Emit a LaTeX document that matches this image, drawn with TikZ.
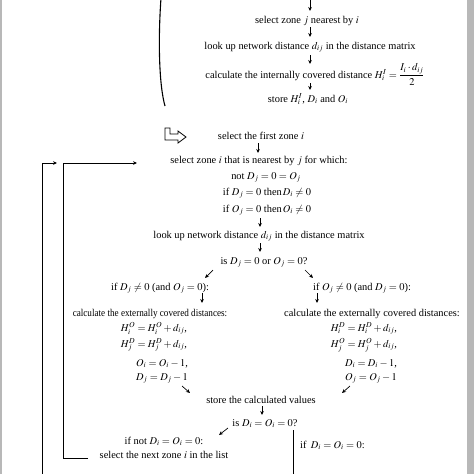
\documentclass[tikz,border=0pt]{standalone}
\usepackage{mathptmx}
\usepackage[no-math]{fontspec}
\setmainfont{Liberation Serif}
\usetikzlibrary{arrows.meta}
\begin{document}
\begin{tikzpicture}[x=1pt,y=-1pt,
  lbl/.style={font=\fontsize{10.4}{12}\selectfont, inner sep=0pt, anchor=base},
  lblw/.style={font=\fontsize{10.4}{12}\selectfont, inner sep=0pt, anchor=base west},
  arr/.style={-{Stealth[length=4pt,width=3.6pt]}, line width=0.7pt},
  loopline/.style={line width=0.8pt},
  edge/.style={fill=black!28, draw=none}]
\useasboundingbox (0,0) rectangle (474,474);
\fill[edge] (0,0) rectangle (2.3,474);
\fill[edge] (467,0) rectangle (474,474);

% bracket
\draw[line width=1.1pt] (161,-2) .. controls (158,40) and (159,85) .. (165,106);

% hollow bent arrow
\draw[line width=0.8pt, fill=white, line join=miter]
  (165,128) -- (170,128) -- (170,134) -- (178,134) -- (178,131) -- (186,137)
  -- (178,143) -- (178,140) -- (165,140) -- cycle;

% upper part
\node[lbl] (t1) at (307,23) {select zone $j$ nearest by $i$};
\node[lbl] (t2) at (310,49) {look up network distance $d_{ij}$ in the distance matrix};
\node[lbl] (t3) at (315,78) {calculate the internally covered distance $H_i^I=\displaystyle\frac{I_i\cdot d_{ij}}{2}$};
\node[lbl] (t4) at (308,102) {store $H_i^I$, $D_i$ and $O_i$};

% lower part
\node[lbl] (t5) at (261,139) {select the first zone $i$};
\node[lbl] (t6) at (259,163) {select zone $i$ that is nearest by $j$ for which:};
\node[lbl] (t7) at (266,179) {not $D_j=0=O_j$};
\node[lbl] (t8) at (267,195) {if $D_j=0$ then$\,D_i\neq0$};
\node[lbl] (t9) at (267,212) {if $O_j=0$ then$\,O_i\neq0$};
\node[lbl] (t10) at (259,238) {look up network distance $d_{ij}$ in the distance matrix};
\node[lbl] (t11) at (264,264) {is $D_j=0$ or $O_j=0$?};
\node[lbl] (t12) at (160,290) {if $D_j\neq0$ (and $O_j=0$):};
\node[lbl] (t13) at (362,290) {if $O_j\neq0$ (and $D_j=0$):};
\node[lbl] (t14) at (150,316) {\scalebox{0.88}[1]{calculate the externally covered distances:}};
\node[lbl] (t15) at (372,316) {calculate the externally covered distances:};
\node[lbl] (e1) at (154,331) {$H_i^O=H_i^O+d_{ij}$,};
\node[lbl] (e2) at (154,347) {$H_j^D=H_j^D+d_{ij}$,};
\node[lbl] (e3) at (162,366) {$O_i=O_i-1$,};
\node[lbl] (e4) at (162,380) {$D_j=D_j-1$};
\node[lbl] (f1) at (364,331) {$H_i^D=H_i^D+d_{ij}$,};
\node[lbl] (f2) at (364,347) {$H_j^O=H_j^O+d_{ij}$,};
\node[lbl] (f3) at (371,366) {$D_i=D_i-1$,};
\node[lbl] (f4) at (371,380) {$O_j=O_j-1$};
\node[lbl] (st) at (261,403) {store the calculated values};
\node[lbl] (is) at (265,426) {is $D_i=O_i=0$?};
\node[lbl] (ifnot) at (164,444) {if not $D_i=O_i=0$:};
\node[lbl] (next) at (164,458) {select the next zone $i$ in the list};
\node[lblw] (ifyes) at (300,448) {if\, $D_i=O_i=0$:};

% free ends
\coordinate (topc) at (310,-6);
\coordinate (botc) at (293,478);
\coordinate (outerbot) at (42,478);
\coordinate (outercorner) at (42,163);
\coordinate (outerend) at (57,163);
\coordinate (innercorner) at (63,163);

% vertical arrows
\draw[arr] (topc) -- ([shift={(3,-12)}]t1.base);
\draw[arr] ([shift={(3,4)}]t1.base) -- ([shift={(0,-12)}]t2.base);
\draw[arr] ([shift={(0,6)}]t2.base) -- ([shift={(-5,-14)}]t3.base);
\draw[arr] ([shift={(-5,5)}]t3.base) -- ([shift={(2,-12)}]t4.base);
\draw[arr] ([shift={(-3,4)}]t5.base) -- ([shift={(-1,-10)}]t6.base);
\draw[arr] ([shift={(-7,6)}]t9.base) -- ([shift={(1,-11)}]t10.base);
\draw[arr] ([shift={(1,5)}]t10.base) -- ([shift={(-4,-12)}]t11.base);
\draw[arr] ([shift={(42,3)}]t12.base) -- ([shift={(52,-13)}]t14.base);
\draw[arr] ([shift={(-45,3)}]t13.base) -- ([shift={(-55,-13)}]t15.base);
\draw[arr] ([shift={(1,3)}]st.base) -- ([shift={(-3,-11)}]is.base);
\draw[arr] ([shift={(28,4)}]is.base) -- (botc);

% diagonal arrows
\draw[arr] ([shift={(-51,6)}]t11.base) -- ([shift={(45,-12)}]t12.base);
\draw[arr] ([shift={(41,6)}]t11.base) -- ([shift={(-49,-12)}]t13.base);
\draw[arr] ([shift={(20,6)}]e4.base) -- ([shift={(-71,-10)}]st.base);
\draw[arr] ([shift={(-21,6)}]f4.base) -- ([shift={(81,-10)}]st.base);
\draw[arr] ([shift={(-37,2)}]is.base) -- ([shift={(55,-9)}]ifnot.base);

% loops
\draw[arr, loopline] ([shift={(-76,0)}]next.base) -| (innercorner) -- ([shift={(-122,0)}]t6.base);
\draw[arr, loopline] (outerbot) -- (outercorner) -- (outerend);
\end{tikzpicture}
\end{document}
